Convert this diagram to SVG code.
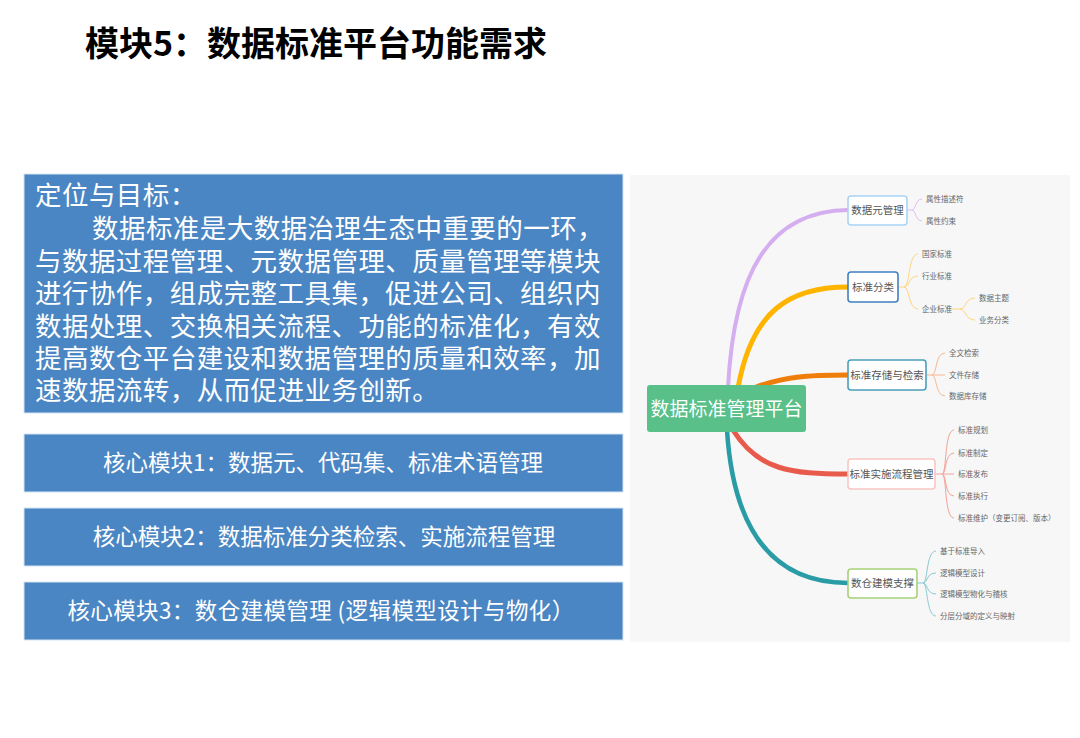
<svg xmlns="http://www.w3.org/2000/svg" width="1080" height="738" viewBox="0 0 1080 738">
<style>
.title{font-family:"Noto Sans CJK SC","Liberation Sans",sans-serif;font-weight:bold;font-size:34px;fill:#000}
.body{font-family:"Noto Sans CJK SC","Liberation Sans",sans-serif;font-size:26.5px;letter-spacing:0.45px;fill:#fff}
.mod{font-family:"Noto Sans CJK SC","Liberation Sans",sans-serif;font-size:22.5px;fill:#fff}
.blue{fill:#4a86c3;stroke:#d6e4f2;stroke-width:1}
.br{font-family:"Noto Sans CJK SC","Liberation Sans",sans-serif;font-size:10.5px;fill:#555}
.leaf{font-family:"Noto Sans CJK SC","Liberation Sans",sans-serif;font-size:7.5px;fill:#666}
.node{fill:#fff;stroke-width:1.6}
.main{fill:none;stroke-linecap:round}
.thin{fill:none;stroke-width:1}
</style>
<rect width="1080" height="738" fill="#fff"/>
<text class="title" x="85" y="56">模块5：数据标准平台功能需求</text>

<g id="intro">
<rect class="blue" x="24" y="174" width="599" height="239"/>
<text class="body" x="35" y="205">定位与目标：</text>
<text class="body" x="92" y="238">数据标准是大数据治理生态中重要的一环，</text>
<text class="body" x="35" y="271">与数据过程管理、元数据管理、质量管理等模块</text>
<text class="body" x="35" y="303">进行协作，组成完整工具集，促进公司、组织内</text>
<text class="body" x="35" y="336">数据处理、交换相关流程、功能的标准化，有效</text>
<text class="body" x="35" y="368">提高数仓平台建设和数据管理的质量和效率，加</text>
<text class="body" x="35" y="400">速数据流转，从而促进业务创新。</text>
</g>
<g id="module1">
<rect class="blue" x="24" y="434" width="599" height="58"/>
<text class="mod" x="323" y="471" text-anchor="middle">核心模块1：数据元、代码集、标准术语管理</text>
</g>
<g id="module2">
<rect class="blue" x="24" y="508" width="599" height="58"/>
<text class="mod" x="324" y="545" text-anchor="middle">核心模块2：数据标准分类检索、实施流程管理</text>
</g>
<g id="module3">
<rect class="blue" x="24" y="582" width="599" height="58"/>
<text class="mod" x="321" y="619" text-anchor="middle" letter-spacing="0.4">核心模块3：数仓建模管理 (逻辑模型设计与物化）</text>
</g>

<rect x="630" y="175" width="440" height="467" fill="#f7f7f7"/>

<g id="connectors">
<path class="main" stroke="#d5aef0" stroke-width="4" d="M728 388 C734 270,770 211,848 210"/>
<path class="main" stroke="#ffb400" stroke-width="5" d="M738 388 C752 310,790 287,848 287"/>
<path class="main" stroke="#ef7d0a" stroke-width="5" d="M756 387 C785 377,805 375,848 375"/>
<path class="main" stroke="#e85a4b" stroke-width="5" d="M733 430 C758 470,790 474,848 474"/>
<path class="main" stroke="#2a9ca6" stroke-width="4.5" d="M727 430 C734 540,780 583,848 583"/>

<g stroke="#dcc0f2" class="thin">
<path d="M907 210 H912 M912 210 C916 210,915 199,922 199 M912 210 C916 210,915 221,922 221"/>
</g>
<g stroke="#ffd47e" class="thin">
<path d="M898 287 H904 M904 287 C910 287,908 254,918 254 M904 287 C910 287,908 276,918 276 M904 287 C910 287,908 309,918 309"/>
<path d="M950 309 H960 M960 309 C966 309,965 298,975 298 M960 309 C966 309,965 320,975 320"/>
</g>
<g stroke="#f6b892" class="thin">
<path d="M926 375 H932 M932 375 C937 375,935 353,945 353 M932 375 H945 M932 375 C937 375,935 396,945 396"/>
</g>
<g stroke="#f2a39a" class="thin">
<path d="M935 474 H942 M942 474 C947 474,944 430,954 430 M942 474 C947 474,944 453,954 453 M942 474 H954 M942 474 C947 474,944 496,954 496 M942 474 C947 474,944 518,954 518"/>
</g>
<g stroke="#86cbd3" class="thin">
<path d="M917 583 H923 M923 583 C928 583,926 551,936 551 M923 583 C928 583,926 573,936 573 M923 583 C928 583,926 594,936 594 M923 583 C928 583,926 616,936 616"/>
</g>
</g>

<g id="center">
<rect x="647" y="385" width="159" height="47" rx="3" fill="#58c088"/>
<text x="726.5" y="415.5" text-anchor="middle" font-family="Noto Sans CJK SC, Liberation Sans, sans-serif" font-size="19" fill="#fff">数据标准管理平台</text>
</g>
<g id="n-meta">
<rect class="node" x="848" y="196" width="59" height="29" rx="3" stroke="#a9d4f6"/>
<text class="br" x="877.5" y="214" text-anchor="middle">数据元管理</text>
<text class="leaf" x="926" y="202">属性描述符</text>
<text class="leaf" x="926" y="224">属性约束</text>
</g>
<g id="n-class">
<rect class="node" x="848" y="272" width="50" height="30" rx="3" stroke="#3f80c0"/>
<text class="br" x="873" y="291" text-anchor="middle">标准分类</text>
<text class="leaf" x="922" y="257">国家标准</text>
<text class="leaf" x="922" y="279">行业标准</text>
<text class="leaf" x="922" y="312">企业标准</text>
<text class="leaf" x="979" y="301">数据主题</text>
<text class="leaf" x="979" y="323">业务分类</text>
</g>
<g id="n-store">
<rect class="node" x="848" y="360" width="78" height="30" rx="3" stroke="#4b9fbb"/>
<text class="br" x="887" y="379" text-anchor="middle">标准存储与检索</text>
<text class="leaf" x="949" y="356">全文检索</text>
<text class="leaf" x="949" y="378">文件存储</text>
<text class="leaf" x="949" y="399">数据库存储</text>
</g>
<g id="n-flow">
<rect class="node" x="848" y="459" width="87" height="30" rx="3" stroke="#f8c6c2"/>
<text class="br" x="891.5" y="478" text-anchor="middle">标准实施流程管理</text>
<text class="leaf" x="958" y="433">标准规划</text>
<text class="leaf" x="958" y="456">标准制定</text>
<text class="leaf" x="958" y="477">标准发布</text>
<text class="leaf" x="958" y="499">标准执行</text>
<text class="leaf" x="958" y="521">标准维护（变更订阅、版本）</text>
</g>
<g id="n-model">
<rect class="node" x="848" y="569" width="69" height="29" rx="3" stroke="#a5d277"/>
<text class="br" x="882.5" y="587" text-anchor="middle">数仓建模支撑</text>
<text class="leaf" x="940" y="554">基于标准导入</text>
<text class="leaf" x="940" y="576">逻辑模型设计</text>
<text class="leaf" x="940" y="597">逻辑模型物化与稽核</text>
<text class="leaf" x="940" y="619">分层分域的定义与映射</text>
</g>
</svg>
